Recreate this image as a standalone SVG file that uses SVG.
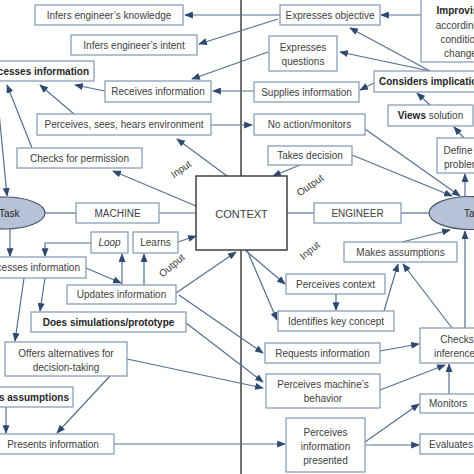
<svg xmlns="http://www.w3.org/2000/svg" width="474" height="474" viewBox="0 0 474 474">
<style>
.b{fill:#fff;stroke:#8497b0;stroke-width:1.2}
.t{font-family:"Liberation Sans",Arial,sans-serif;font-size:10px;fill:#404040;text-anchor:middle}
.s{text-anchor:start}
.e{text-anchor:end}
.bd{font-weight:bold;fill:#262626}
.c line,.c polyline{stroke:#56708f;stroke-width:1.2;fill:none}
.c .a{marker-end:url(#ah)}
.k{stroke:#404040;stroke-width:1.5;fill:none}
.el{fill:#b7c2d6;stroke:#44546a;stroke-width:1.2}
</style>
<defs>
<marker id="ah" viewBox="0 0 10 8" refX="9" refY="4" markerWidth="9" markerHeight="7" orient="auto" markerUnits="userSpaceOnUse"><path d="M0,0 L10,4 L0,8 z" fill="#2f4a70"/></marker>
</defs>
<rect width="474" height="474" fill="#fff"/>
<g id="axis">
<line class="k" x1="241" y1="0" x2="241" y2="176"/>
<line class="k" x1="241" y1="250" x2="241" y2="474"/>
</g>
<g class="c" id="connectors">
<line x1="45" y1="213" x2="76" y2="213"/>
<line x1="159" y1="213" x2="196" y2="213"/>
<line x1="287" y1="213" x2="314" y2="213"/>
<line x1="401" y1="213" x2="429" y2="213"/>
<line class="a" x1="280" y1="15" x2="185" y2="15"/>
<line class="a" x1="278" y1="19" x2="199" y2="44"/>
<line class="a" x1="268" y1="52" x2="192" y2="79"/>
<line class="a" x1="256" y1="91" x2="213" y2="91"/>
<line class="a" x1="105" y1="91" x2="75" y2="85"/>
<line class="a" x1="74" y1="114" x2="40" y2="85"/>
<line class="a" x1="32" y1="148" x2="7" y2="85"/>
<line class="a" x1="-4" y1="81" x2="7" y2="196"/>
<line class="a" x1="211" y1="125" x2="252" y2="125"/>
<line class="a" x1="227" y1="176" x2="177" y2="139"/>
<line class="a" x1="196" y1="206" x2="113" y2="171"/>
<line class="a" x1="10" y1="229" x2="10" y2="256"/>
<polyline class="a" points="91,243 45,243 45,256"/>
<line class="a" x1="178" y1="242" x2="196" y2="236"/>
<line class="a" x1="86" y1="268" x2="121" y2="283"/>
<line class="a" x1="122" y1="285" x2="122" y2="254"/>
<line class="a" x1="144" y1="285" x2="144" y2="254"/>
<line class="a" x1="176" y1="293" x2="236" y2="252"/>
<line class="a" x1="179" y1="295" x2="263" y2="353"/>
<line class="a" x1="45" y1="278" x2="40" y2="311"/>
<line class="a" x1="186" y1="323" x2="263" y2="382"/>
<line class="a" x1="24" y1="278" x2="15" y2="341"/>
<line class="a" x1="127" y1="359" x2="263" y2="388"/>
<line class="a" x1="110" y1="376" x2="57" y2="433"/>
<line class="a" x1="6" y1="407" x2="6" y2="433"/>
<line class="a" x1="114" y1="444" x2="285" y2="444"/>
<line class="a" x1="421" y1="15" x2="381" y2="15"/>
<line class="a" x1="430" y1="71" x2="350" y2="28"/>
<line class="a" x1="430" y1="71" x2="340" y2="52"/>
<line class="a" x1="374" y1="83" x2="360" y2="90"/>
<line class="a" x1="430" y1="105" x2="417" y2="93"/>
<line class="a" x1="464" y1="138" x2="454" y2="127"/>
<line class="a" x1="365" y1="129" x2="460" y2="196"/>
<line class="a" x1="352" y1="155" x2="452" y2="196"/>
<line class="a" x1="300" y1="165" x2="273" y2="176"/>
<line class="a" x1="465" y1="196" x2="465" y2="174"/>
<line class="a" x1="402" y1="242" x2="450" y2="230"/>
<line class="a" x1="465" y1="328" x2="465" y2="231"/>
<line class="a" x1="245" y1="250" x2="285" y2="284"/>
<line class="a" x1="336" y1="294" x2="336" y2="310"/>
<line class="a" x1="247" y1="250" x2="277" y2="320"/>
<line class="a" x1="384" y1="311" x2="398" y2="264"/>
<line class="a" x1="452" y1="328" x2="403" y2="264"/>
<line class="a" x1="380" y1="351" x2="419" y2="344"/>
<line class="a" x1="380" y1="390" x2="445" y2="365"/>
<line class="a" x1="449" y1="394" x2="449" y2="364"/>
<line class="a" x1="365" y1="442" x2="419" y2="404"/>
<line class="a" x1="365" y1="445" x2="419" y2="445"/>
</g>
<g id="labels">
<text class="t" transform="translate(183,172) rotate(-35)">Input</text>
<text class="t" transform="translate(174,268) rotate(-40)">Output</text>
<text class="t" transform="translate(312,188) rotate(-35)">Output</text>
<text class="t" transform="translate(312,253) rotate(-40)">Input</text>
</g>
<g id="context"><rect x="196" y="176" width="91" height="74" fill="#fff" stroke="#404040" stroke-width="1.5"/><text class="t" x="241.5" y="217.5" style="font-size:11px">CONTEXT</text></g>
<g id="n-infers-knowledge"><rect class="b" x="35" y="5" width="148" height="20"/><text class="t" x="109" y="18.5">Infers engineer’s knowledge</text></g>
<g id="n-infers-intent"><rect class="b" x="71" y="35" width="126" height="20"/><text class="t" x="134" y="48.5">Infers engineer’s intent</text></g>
<g id="n-processes-top"><rect class="b" x="-30" y="61" width="124" height="20"/><text class="t e bd" x="89" y="74.5">Processes information</text></g>
<g id="n-receives"><rect class="b" x="105" y="81" width="106" height="21"/><text class="t" x="158" y="95">Receives information</text></g>
<g id="n-perceives-env"><rect class="b" x="37" y="114" width="174" height="21"/><text class="t" x="124" y="128">Perceives, sees, hears environment</text></g>
<g id="n-checks-permission"><rect class="b" x="17" y="148" width="125" height="20"/><text class="t" x="79.5" y="161.5">Checks for permission</text></g>
<g id="n-task-left"><ellipse class="el" cx="5" cy="213" rx="40" ry="16"/><text class="t s" x="-1" y="216.5" style="fill:#262626">Task</text></g>
<g id="n-machine"><rect class="b" x="76" y="203" width="83" height="20"/><text class="t" x="117.5" y="216.5">MACHINE</text></g>
<g id="n-loop"><rect class="b" x="91" y="232" width="37" height="21"/><text class="t" x="109.5" y="246" style="font-style:italic">Loop</text></g>
<g id="n-learns"><rect class="b" x="133" y="232" width="45" height="21"/><text class="t" x="155.5" y="246">Learns</text></g>
<g id="n-processes-bottom"><rect class="b" x="-30" y="257" width="116" height="21"/><text class="t e" x="80" y="271">Processes information</text></g>
<g id="n-updates"><rect class="b" x="67" y="285" width="109" height="19"/><text class="t" x="121.5" y="298">Updates information</text></g>
<g id="n-simulations"><rect class="b" x="31" y="312" width="155" height="20"/><text class="t bd" x="108.5" y="325.5">Does simulations/prototype</text></g>
<g id="n-offers"><rect class="b" x="5" y="342" width="122" height="34"/><text class="t" x="66" y="356.5">Offers alternatives for</text><text class="t" x="66" y="370.5">decision-taking</text></g>
<g id="n-makes-assumptions-left"><rect class="b" x="-40" y="387" width="113" height="20"/><text class="t e bd" x="69" y="400.5">Makes assumptions</text></g>
<g id="n-presents"><rect class="b" x="-1" y="434" width="115" height="20"/><text class="t" x="53" y="447.5">Presents information</text></g>
<g id="n-expresses-objective"><rect class="b" x="280" y="5" width="100" height="20"/><text class="t" x="330" y="18.5">Expresses objective</text></g>
<g id="n-improvises"><rect class="b" x="421" y="-5" width="82" height="67"/><text class="t bd" x="463" y="13.5">Improvises</text><text class="t" x="463" y="28.5">according to</text><text class="t" x="463" y="42.5">conditions</text><text class="t" x="463" y="56.5">changes</text></g>
<g id="n-expresses-questions"><rect class="b" x="269" y="36" width="68" height="35"/><text class="t" x="303" y="50.5">Expresses</text><text class="t" x="303" y="64.5">questions</text></g>
<g id="n-considers"><rect class="b" x="374" y="71" width="130" height="21"/><text class="t s bd" x="379" y="85">Considers implications</text></g>
<g id="n-supplies"><rect class="b" x="254" y="82" width="105" height="20"/><text class="t" x="306.5" y="95.5">Supplies information</text></g>
<g id="n-views"><rect class="b" x="388" y="105" width="85" height="21"/><text class="t" x="430.5" y="119"><tspan class="bd">Views</tspan> solution</text></g>
<g id="n-define"><rect class="b" x="437" y="138" width="70" height="35"/><text class="t" x="458" y="153.5">Define</text><text class="t" x="462" y="168">problem</text></g>
<g id="n-no-action"><rect class="b" x="254" y="114" width="111" height="21"/><text class="t" x="309.5" y="128">No action/monitors</text></g>
<g id="n-takes-decision"><rect class="b" x="268" y="146" width="84" height="19"/><text class="t" x="310" y="159">Takes decision</text></g>
<g id="n-engineer"><rect class="b" x="314" y="203" width="87" height="20"/><text class="t" x="357.5" y="216.5">ENGINEER</text></g>
<g id="n-task-right"><ellipse class="el" cx="470" cy="213" rx="41" ry="16.5"/><text class="t s" x="464" y="216.5" style="fill:#262626">Task</text></g>
<g id="n-makes-assumptions-right"><rect class="b" x="344" y="242" width="113" height="20"/><text class="t" x="400.5" y="255.5">Makes assumptions</text></g>
<g id="n-perceives-context"><rect class="b" x="286" y="274" width="99" height="20"/><text class="t" x="335.5" y="287.5">Perceives context</text></g>
<g id="n-identifies"><rect class="b" x="278" y="311" width="116" height="20"/><text class="t" x="336" y="324.5">Identifies key concept</text></g>
<g id="n-requests"><rect class="b" x="265" y="343" width="115" height="20"/><text class="t" x="322.5" y="356.5">Requests information</text></g>
<g id="n-checks-inferences"><rect class="b" x="420" y="328" width="75" height="35"/><text class="t" x="457" y="342.5">Checks</text><text class="t" x="457" y="356.5">inferences</text></g>
<g id="n-perceives-machine"><rect class="b" x="266" y="374" width="114" height="34"/><text class="t" x="323" y="387.5">Perceives machine’s</text><text class="t" x="323" y="402">behavior</text></g>
<g id="n-monitors"><rect class="b" x="420" y="394" width="70" height="19"/><text class="t s" x="429" y="407">Monitors</text></g>
<g id="n-perceives-info"><rect class="b" x="286" y="418" width="79" height="54"/><text class="t" x="325.5" y="435.5">Perceives</text><text class="t" x="325.5" y="449.5">information</text><text class="t" x="325.5" y="463.5">presented</text></g>
<g id="n-evaluates"><rect class="b" x="420" y="434" width="70" height="20"/><text class="t s" x="429" y="447.5">Evaluates</text></g>
</svg>
